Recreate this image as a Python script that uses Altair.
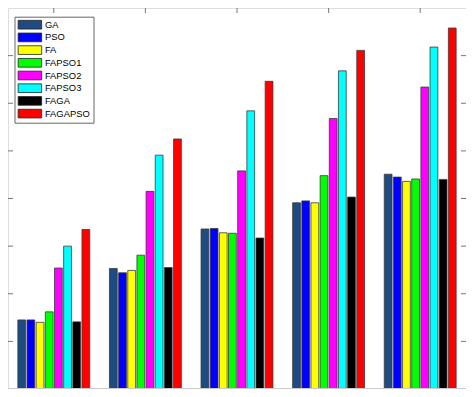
import altair as alt
import pandas as pd

groups = ["1", "2", "3", "4", "5"]
methods = ["GA", "PSO", "FA", "FAPSO1", "FAPSO2", "FAPSO3", "FAGA", "FAGAPSO"]
colors = ["#1e4b82", "#0000ff", "#ffff00", "#00ff00", "#ff00ff", "#00ffff", "#000000", "#ff0000"]

ga      = [1.45, 2.53, 3.36, 3.91, 4.51]
pso     = [1.45, 2.44, 3.37, 3.95, 4.45]
fa      = [1.40, 2.49, 3.28, 3.91, 4.36]
fapso1  = [1.62, 2.81, 3.27, 4.48, 4.41]
fapso2  = [2.54, 4.15, 4.58, 5.68, 6.34]
fapso3  = [3.00, 4.91, 5.84, 6.68, 7.18]
faga    = [1.41, 2.55, 3.17, 4.03, 4.40]
fagapso = [3.35, 5.25, 6.46, 7.11, 7.58]

y_ticks = [1, 2, 3, 4, 5, 6, 7]

series = [ga, pso, fa, fapso1, fapso2, fapso3, faga, fagapso]
rows = []
for m, vals in zip(methods, series):
    for g, v in zip(groups, vals):
        rows.append({"group": g, "method": m, "value": v})
df = pd.DataFrame(rows)

W, H = 458, 381

xscale = alt.Scale(domain=groups, paddingInner=0.2, paddingOuter=0.1)
yscale = alt.Scale(domain=[0, 8], nice=False, zero=True)

bars = alt.Chart(df).mark_bar(stroke="#3a3a3a", strokeWidth=0.8).encode(
    x=alt.X("group:N", sort=groups, axis=None, scale=xscale),
    xOffset=alt.XOffset("method:N", sort=methods,
                        scale=alt.Scale(domain=methods, paddingInner=0.15, paddingOuter=0.075)),
    y=alt.Y("value:Q", axis=None, scale=yscale),
    color=alt.Color(
        "method:N", sort=methods,
        scale=alt.Scale(domain=methods, range=colors),
        legend=alt.Legend(
            title=None, orient="none", legendX=6.5, legendY=8.7,
            symbolType="M-1,-1H4.4V1H-1Z", symbolSize=75.7,
            symbolStrokeColor="#222222", symbolStrokeWidth=0.8, symbolOpacity=1,
            labelFont="Liberation Sans", labelFontSize=9.4, labelColor="black",
            labelOffset=17.4, rowPadding=0.7, padding=3,
            strokeColor="#666666", fillColor="white", cornerRadius=0,
        ),
    ),
)

tick_df = pd.DataFrame({"v": y_ticks})
group_df = pd.DataFrame({"group": groups})
base_df = pd.DataFrame({"v": [0]})

left_ticks = alt.Chart(tick_df).mark_rule(color="#777777", strokeWidth=1).encode(
    y=alt.Y("v:Q", scale=yscale, axis=None), x=alt.value(0), x2=alt.value(5))
right_ticks = alt.Chart(tick_df).mark_rule(color="#777777", strokeWidth=1).encode(
    y=alt.Y("v:Q", scale=yscale, axis=None), x=alt.value(W - 5), x2=alt.value(W))
top_ticks = alt.Chart(group_df).mark_rule(color="#777777", strokeWidth=1).encode(
    x=alt.X("group:N", sort=groups, scale=xscale, axis=None, bandPosition=0.5),
    y=alt.value(0), y2=alt.value(5))
base_line = alt.Chart(base_df).mark_rule(color="#cccccc", strokeWidth=2).encode(
    y=alt.Y("v:Q", scale=yscale, axis=None))

chart = alt.layer(left_ticks, right_ticks, top_ticks, bars, base_line).properties(
    width=W, height=H,
    autosize=alt.AutoSizeParams(type="none"),
    padding=0,
).configure_view(strokeWidth=0).configure(background="white").configure_legend(strokeWidth=1)

chart.save("out.html", embed_options={"renderer": "svg", "actions": False})
